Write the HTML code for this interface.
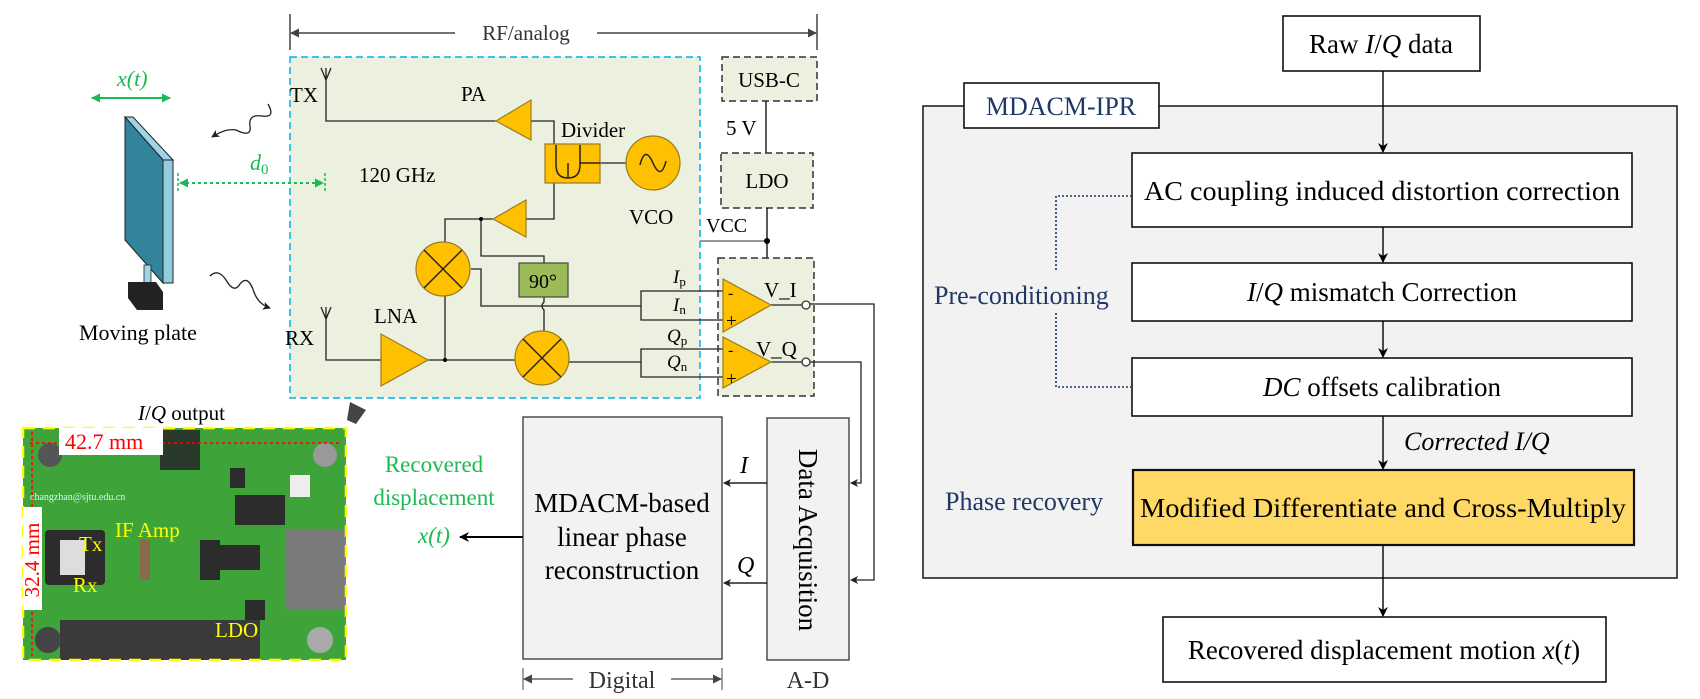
<!DOCTYPE html>
<html><head><meta charset="utf-8"><style>
html,body{margin:0;padding:0;background:#fff}
svg{display:block}
text{font-family:"Liberation Serif",serif}
</style></head><body>
<svg width="1700" height="699" viewBox="0 0 1700 699" xmlns="http://www.w3.org/2000/svg">
<defs>
<marker id="ah" markerWidth="10" markerHeight="10" refX="9" refY="5" orient="auto" markerUnits="userSpaceOnUse"><path d="M0,0 L10,5 L0,10 L3,5 z" fill="#000"/></marker>
<marker id="ahs" markerWidth="8" markerHeight="8" refX="7" refY="4" orient="auto" markerUnits="userSpaceOnUse"><path d="M0,0 L8,4 L0,8 L2,4 z" fill="#222"/></marker>
<marker id="ahg" markerWidth="9" markerHeight="9" refX="8" refY="4.5" orient="auto-start-reverse" markerUnits="userSpaceOnUse"><path d="M0,0 L9,4.5 L0,9 z" fill="#1db954"/></marker>
<marker id="ahd" markerWidth="9" markerHeight="9" refX="8" refY="4.5" orient="auto-start-reverse" markerUnits="userSpaceOnUse"><path d="M0,0 L9,4.5 L0,9 z" fill="#444"/></marker>
</defs>

<line x1="290" y1="14" x2="290" y2="50" stroke="#444" stroke-width="1.5"/>
<line x1="817" y1="14" x2="817" y2="50" stroke="#444" stroke-width="1.5"/>
<line x1="291" y1="33" x2="455" y2="33" stroke="#444" stroke-width="1.5" marker-start="url(#ahd)"/>
<line x1="597" y1="33" x2="816" y2="33" stroke="#444" stroke-width="1.5" marker-end="url(#ahd)"/>
<text x="526" y="40" font-size="21" text-anchor="middle" fill="#333">RF/analog</text>

<rect x="290" y="57" width="410" height="341" fill="#ebf1de" stroke="#00b0f0" stroke-width="1.5" stroke-dasharray="7,4"/>
<rect x="722" y="57" width="95" height="44" fill="#ebf1de" stroke="#333" stroke-width="1.5" stroke-dasharray="7,4"/>
<text x="769" y="87" font-size="21" text-anchor="middle">USB-C</text>
<line x1="766" y1="101" x2="766" y2="153" stroke="#000" stroke-width="1.3"/>
<text x="726" y="135" font-size="21">5 V</text>
<rect x="721" y="153" width="92" height="55" fill="#ebf1de" stroke="#333" stroke-width="1.5" stroke-dasharray="7,4"/>
<text x="767" y="188" font-size="21" text-anchor="middle">LDO</text>
<line x1="767" y1="208" x2="767" y2="258" stroke="#000" stroke-width="1.3"/>
<line x1="700" y1="241" x2="767" y2="241" stroke="#777" stroke-width="1.5"/>
<circle cx="767" cy="241" r="3" fill="#000"/>
<text x="706" y="232" font-size="20">VCC</text>
<rect x="718" y="258" width="96" height="138" fill="#ebf1de" stroke="#333" stroke-width="1.5" stroke-dasharray="7,4"/>

<g stroke="#222" stroke-width="1.3" fill="none">
<path d="M321,68 L326,80 L331,68 M326,68 L326,121 L496,121"/>
<path d="M531,121 L554,121 L554,144"/>
<path d="M600,163 L626,163"/>
<path d="M554,183 L554,219 L526,219"/>
<path d="M493,219 L445,219 L445,242"/>
<path d="M481,219 L481,256 L544,256 L544,263"/>
<path d="M544,297 L544,302 Q540,306 544,310 L544,331"/>
<path d="M471,269 L481,269 L481,306 L641,306"/>
<path d="M445,296 L445,360"/>
<path d="M321,307 L326,319 L331,307 M326,307 L326,360 L381,360"/>
<path d="M428,360 L515,360"/>
<path d="M569,362 L641,362"/>
<path d="M723,291 L641,291 L641,320 L723,320"/>
<path d="M723,349 L641,349 L641,377 L723,377"/>
<path d="M771,305 L802,305"/>
<path d="M771,362 L802,362"/>
<path d="M810,304 L874,304 L874,580 L851,580" marker-end="url(#ahs)"/>
<path d="M810,362 L861,362 L861,483 L851,483" marker-end="url(#ahs)"/>
</g>
<circle cx="445" cy="360" r="2" fill="#000"/>
<circle cx="481" cy="219" r="2" fill="#000"/>
<circle cx="806" cy="305" r="4" fill="#fff" stroke="#333" stroke-width="1.3"/>
<circle cx="806" cy="362" r="4" fill="#fff" stroke="#333" stroke-width="1.3"/>

<g fill="#ffc000" stroke="#9a7a20" stroke-width="1.2">
<polygon points="496,121 531,100 531,140"/>
<rect x="545" y="144" width="55" height="39"/>
<circle cx="653" cy="163" r="27"/>
<polygon points="493,219 526,200 526,237"/>
<circle cx="443" cy="269" r="27"/>
<polygon points="381,334 381,386 428,360"/>
<circle cx="542" cy="358" r="27"/>
<polygon points="723,279 723,332 771,305"/>
<polygon points="723,337 723,388 771,362"/>
</g>
<path d="M556,145 L556,165 Q556,178 568,178 Q580,178 580,165 L580,145 M568,178 L568,163 M580,163 L600,163" stroke="#222" stroke-width="1.5" fill="none"/>
<path d="M640,165 Q645,145 653,163 Q661,181 666,161" stroke="#222" stroke-width="1.5" fill="none"/>
<g stroke="#222" stroke-width="1.4">
<line x1="424" y1="250" x2="462" y2="288"/><line x1="462" y1="250" x2="424" y2="288"/>
<line x1="523" y1="339" x2="561" y2="377"/><line x1="561" y1="339" x2="523" y2="377"/>
</g>
<rect x="519" y="263" width="49" height="34" fill="#9bbb59" stroke="#444" stroke-width="1.2"/>
<text x="543" y="288" font-size="20" text-anchor="middle">90°</text>
<g font-size="21">
<text x="290" y="102">TX</text>
<text x="285" y="345">RX</text>
<text x="461" y="101">PA</text>
<text x="561" y="137">Divider</text>
<text x="359" y="182">120 GHz</text>
<text x="629" y="224">VCO</text>
<text x="374" y="323">LNA</text>
<text x="764" y="297">V_I</text>
<text x="756" y="356">V_Q</text>
</g>
<g font-size="19">
<text x="673" y="283"><tspan font-style="italic">I</tspan><tspan font-size="13" dy="3">p</tspan></text>
<text x="673" y="311"><tspan font-style="italic">I</tspan><tspan font-size="13" dy="3">n</tspan></text>
<text x="667" y="342"><tspan font-style="italic">Q</tspan><tspan font-size="13" dy="3">p</tspan></text>
<text x="667" y="368"><tspan font-style="italic">Q</tspan><tspan font-size="13" dy="3">n</tspan></text>
<text x="728" y="298" font-size="16">-</text>
<text x="726" y="327">+</text>
<text x="728" y="355" font-size="16">-</text>
<text x="726" y="385">+</text>
</g>

<line x1="92" y1="98" x2="170" y2="98" stroke="#1db954" stroke-width="2" marker-start="url(#ahg)" marker-end="url(#ahg)"/>
<text x="117" y="86" font-size="22" fill="#1db954" font-style="italic">x(t)</text>
<polygon points="125,117 133,117 173,160 163,160" fill="#9fd3e6" stroke="#222" stroke-width="1"/>
<polygon points="125,117 163,160 163,283 125,240" fill="#31849b" stroke="#222" stroke-width="1"/>
<rect x="163" y="160" width="10" height="123" fill="#92cddc" stroke="#222" stroke-width="1"/>
<rect x="144" y="265" width="7" height="22" fill="#9fd3e6" stroke="#222" stroke-width="0.8"/>
<polygon points="128,282 156,282 163,292 163,310 137,310 128,298" fill="#222"/>
<text x="79" y="340" font-size="22">Moving plate</text>
<text x="250" y="170" font-size="22" fill="#1db954" font-style="italic">d<tspan font-size="15" dy="4" font-style="normal">0</tspan></text>
<line x1="180" y1="183" x2="323" y2="183" stroke="#1db954" stroke-width="2" stroke-dasharray="3,3" marker-start="url(#ahg)" marker-end="url(#ahg)"/>
<line x1="178" y1="173" x2="178" y2="193" stroke="#1db954" stroke-width="1.5" stroke-dasharray="3,2"/>
<line x1="325" y1="173" x2="325" y2="193" stroke="#1db954" stroke-width="1.5" stroke-dasharray="3,2"/>
<path d="M268,104 Q276,118 262,116 Q248,114 250,126 Q252,138 236,130 Q226,128 212,137" stroke="#222" stroke-width="1.3" fill="none" marker-end="url(#ahs)"/>
<path d="M210,276 Q218,268 226,280 Q234,294 240,284 Q248,274 254,292 Q258,304 270,308" stroke="#222" stroke-width="1.3" fill="none" marker-end="url(#ahs)"/>

<polygon points="350,402 366,410 356,424 347,420" fill="#444"/>
<text x="138" y="420" font-size="21"><tspan font-style="italic">I</tspan>/<tspan font-style="italic">Q</tspan> output</text>
<rect x="23" y="428" width="323" height="232" fill="#3ea43a"/>
<g fill="#2c2c2c">
<rect x="45" y="530" width="60" height="55" rx="4"/>
<rect x="160" y="430" width="40" height="40" fill="#2a3a2a"/>
<rect x="235" y="495" width="50" height="30"/>
<rect x="140" y="540" width="10" height="40" fill="#8a6a4a"/>
<rect x="200" y="540" width="20" height="40"/>
<rect x="285" y="530" width="61" height="80" fill="#7a7a7a"/>
<rect x="220" y="545" width="40" height="25"/>
<rect x="60" y="620" width="200" height="40" fill="#3a3a3a"/>
<circle cx="50" cy="455" r="12" fill="#555"/>
<circle cx="325" cy="455" r="12" fill="#999"/>
<circle cx="48" cy="640" r="13" fill="#444"/>
<circle cx="320" cy="640" r="13" fill="#aaa"/>
<rect x="290" y="475" width="20" height="22" fill="#eee"/>
<rect x="230" y="468" width="15" height="20"/>
<rect x="245" y="600" width="20" height="20"/>
</g>
<rect x="60" y="540" width="25" height="35" fill="#ddd"/>
<rect x="23" y="428" width="323" height="232" fill="none" stroke="#ffff00" stroke-width="2.5" stroke-dasharray="12,8"/>
<line x1="30" y1="443" x2="340" y2="443" stroke="#ff0000" stroke-width="1.5" stroke-dasharray="3,3"/>
<line x1="32" y1="432" x2="32" y2="656" stroke="#ff0000" stroke-width="1.5" stroke-dasharray="3,3"/>
<rect x="59" y="428" width="104" height="27" fill="#fff"/>
<text x="65" y="449" font-size="22" fill="#ff0000">42.7 mm</text>
<rect x="23" y="507" width="19" height="103" fill="#fff"/>
<text transform="translate(39,560) rotate(-90)" font-size="21" fill="#ff0000" text-anchor="middle">32.4 mm</text>
<text x="30" y="500" font-size="10" fill="#cfe">changzhan@sjtu.edu.cn</text>
<g font-size="21" fill="#ffff00">
<text x="115" y="537">IF Amp</text>
<text x="79" y="551">Tx</text>
<text x="73" y="592">Rx</text>
<text x="215" y="637">LDO</text>
</g>

<g font-size="23" fill="#1db954" text-anchor="middle">
<text x="434" y="472">Recovered</text>
<text x="434" y="505">displacement</text>
<text x="434" y="543" font-style="italic">x(t)</text>
</g>
<line x1="523" y1="537" x2="460" y2="537" stroke="#000" stroke-width="2" marker-end="url(#ah)"/>

<rect x="523" y="417" width="199" height="242" fill="#f2f2f2" stroke="#333" stroke-width="1.3"/>
<g font-size="27" text-anchor="middle">
<text x="622" y="512">MDACM-based</text>
<text x="622" y="546">linear phase</text>
<text x="622" y="579">reconstruction</text>
</g>
<rect x="767" y="418" width="82" height="242" fill="#f2f2f2" stroke="#333" stroke-width="1.3"/>
<text transform="translate(799,540) rotate(90)" font-size="27" text-anchor="middle">Data Acquisition</text>
<line x1="767" y1="483" x2="724" y2="483" stroke="#222" stroke-width="1.5" marker-end="url(#ahs)"/>
<line x1="767" y1="583" x2="724" y2="583" stroke="#222" stroke-width="1.5" marker-end="url(#ahs)"/>
<text x="740" y="473" font-size="24" font-style="italic">I</text>
<text x="737" y="573" font-size="24" font-style="italic">Q</text>
<line x1="523" y1="668" x2="523" y2="690" stroke="#444"/>
<line x1="722" y1="668" x2="722" y2="690" stroke="#444"/>
<line x1="524" y1="679" x2="573" y2="679" stroke="#444" stroke-width="1.3" marker-start="url(#ahd)"/>
<line x1="671" y1="679" x2="721" y2="679" stroke="#444" stroke-width="1.3" marker-end="url(#ahd)"/>
<text x="622" y="688" font-size="24" text-anchor="middle" fill="#333">Digital</text>
<text x="808" y="688" font-size="24" text-anchor="middle" fill="#333">A-D</text>

<rect x="1283" y="16" width="197" height="55" fill="#fff" stroke="#111" stroke-width="1.6"/>
<text x="1381" y="53" font-size="27" text-anchor="middle">Raw <tspan font-style="italic">I</tspan>/<tspan font-style="italic">Q</tspan> data</text>
<rect x="923" y="106" width="754" height="472" fill="#f2f2f2" stroke="#222" stroke-width="1.6"/>
<rect x="964" y="83" width="195" height="45" fill="#fff" stroke="#111" stroke-width="1.6"/>
<text x="1061" y="115" font-size="26" text-anchor="middle" fill="#1f3864">MDACM-IPR</text>
<line x1="1383" y1="71" x2="1383" y2="152" stroke="#000" stroke-width="1.4" marker-end="url(#ah)"/>
<rect x="1132" y="153" width="500" height="74" fill="#fff" stroke="#111" stroke-width="1.6"/>
<text x="1382" y="200" font-size="27" text-anchor="middle" textLength="476" lengthAdjust="spacingAndGlyphs">AC coupling induced distortion correction</text>
<line x1="1383" y1="227" x2="1383" y2="262" stroke="#000" stroke-width="1.4" marker-end="url(#ah)"/>
<rect x="1132" y="263" width="500" height="58" fill="#fff" stroke="#111" stroke-width="1.6"/>
<text x="1382" y="301" font-size="27" text-anchor="middle"><tspan font-style="italic">I</tspan>/<tspan font-style="italic">Q</tspan> mismatch Correction</text>
<line x1="1383" y1="321" x2="1383" y2="357" stroke="#000" stroke-width="1.4" marker-end="url(#ah)"/>
<rect x="1132" y="358" width="500" height="58" fill="#fff" stroke="#111" stroke-width="1.6"/>
<text x="1382" y="396" font-size="27" text-anchor="middle"><tspan font-style="italic">DC</tspan> offsets calibration</text>
<line x1="1383" y1="416" x2="1383" y2="469" stroke="#000" stroke-width="1.4" marker-end="url(#ah)"/>
<text x="1404" y="450" font-size="26" font-style="italic">Corrected I/Q</text>
<rect x="1133" y="470" width="501" height="75" fill="#ffd966" stroke="#111" stroke-width="2.2"/>
<text x="1383" y="517" font-size="27" text-anchor="middle" textLength="486" lengthAdjust="spacingAndGlyphs">Modified Differentiate and Cross-Multiply</text>
<line x1="1383" y1="545" x2="1383" y2="616" stroke="#000" stroke-width="1.4" marker-end="url(#ah)"/>
<rect x="1163" y="617" width="443" height="65" fill="#fff" stroke="#111" stroke-width="1.6"/>
<text x="1384" y="659" font-size="27" text-anchor="middle">Recovered displacement motion <tspan font-style="italic">x</tspan>(<tspan font-style="italic">t</tspan>)</text>
<path d="M1132,196 L1056,196 L1056,270 M1056,313 L1056,387 L1132,387" stroke="#1f3864" stroke-width="1.6" fill="none" stroke-dasharray="2,2"/>
<text x="934" y="304" font-size="26" fill="#1f3864">Pre-conditioning</text>
<text x="945" y="510" font-size="26" fill="#1f3864">Phase recovery</text>
</svg>
</body></html>
